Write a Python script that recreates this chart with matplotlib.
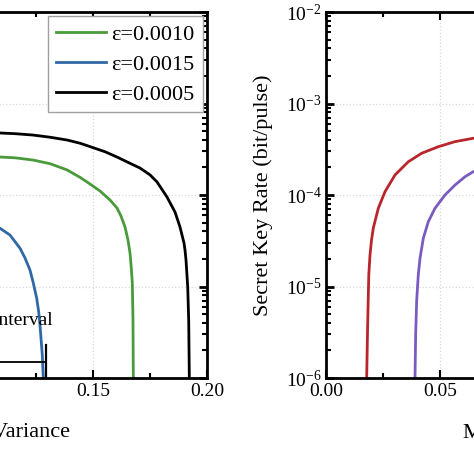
import matplotlib
matplotlib.use("Agg")
import matplotlib.pyplot as plt
from matplotlib.ticker import LogLocator, MultipleLocator, FormatStrFormatter, NullFormatter

plt.rcParams['font.family'] = ['Liberation Serif', 'DejaVu Serif']
plt.rcParams['mathtext.fontset'] = 'stix'

# ---- left panel data (key rate vs variance) ----
black_x = [0.100, 0.10921, 0.11579, 0.12368, 0.13114, 0.13860, 0.14430, 0.14868, 0.15527,
           0.16053, 0.16623, 0.17061, 0.17500, 0.17807, 0.18246, 0.18596, 0.18816, 0.18904,
           0.18991, 0.19035, 0.19079, 0.19154, 0.19197, 0.19224, 0.19224]
black_y = [4.9e-4, 4.76e-4, 4.68e-4, 4.52e-4, 4.28e-4, 3.99e-4, 3.68e-4, 3.38e-4, 2.97e-4,
           2.60e-4, 2.22e-4, 1.97e-4, 1.66e-4, 1.39e-4, 9.5e-5, 6.52e-5, 4.47e-5, 3.65e-5,
           2.99e-5, 2.51e-5, 1.95e-5, 9.9e-6, 4.3e-6, 1.03e-6, 3e-7]
green_x = [0.100, 0.10921, 0.11579, 0.12368, 0.13114, 0.13860, 0.14430, 0.14868, 0.15307,
           0.15746, 0.16053, 0.16228, 0.16404, 0.16535, 0.16623, 0.16680, 0.16724, 0.16754,
           0.16768, 0.16768]
green_y = [2.72e-4, 2.60e-4, 2.55e-4, 2.41e-4, 2.20e-4, 1.88e-4, 1.56e-4, 1.32e-4, 1.106e-4,
           8.82e-5, 7.21e-5, 5.89e-5, 4.47e-5, 3.22e-5, 2.32e-5, 1.59e-5, 1.09e-5, 4.3e-6,
           1.03e-6, 3e-7]
blue_x = [0.100, 0.10921, 0.11360, 0.11798, 0.12018, 0.12237, 0.12382, 0.12531, 0.12619,
          0.12675, 0.12776, 0.12820, 0.12820]
blue_y = [5.07e-5, 4.33e-5, 3.65e-5, 2.62e-5, 2.05e-5, 1.51e-5, 1.09e-5, 7.43e-6, 5.26e-6,
          3.79e-6, 1.78e-6, 1.0e-6, 3e-7]
labels_left = ['ε=0.0010', 'ε=0.0015', 'ε=0.0005']

# ---- right panel data ----
red_x = [0.01785, 0.01785, 0.01820, 0.01851, 0.01877, 0.01930, 0.01996, 0.02075, 0.02294,
         0.02588, 0.03026, 0.03610, 0.04197, 0.04925, 0.05658, 0.06461, 0.072]
red_y = [3e-7, 1.03e-6, 3.10e-6, 7.11e-6, 1.34e-5, 2.21e-5, 3.22e-5, 4.36e-5, 7.16e-5,
         1.087e-4, 1.655e-4, 2.31e-4, 2.86e-4, 3.37e-4, 3.83e-4, 4.17e-4, 4.35e-4]
purple_x = [0.03904, 0.03904, 0.03934, 0.03978, 0.04048, 0.04123, 0.04268, 0.04487, 0.04781,
            0.05219, 0.05658, 0.06097, 0.06461, 0.072]
purple_y = [3e-7, 1.03e-6, 3.10e-6, 7.11e-6, 1.34e-5, 2.03e-5, 3.37e-5, 5.11e-5, 7.16e-5,
            1.0e-4, 1.285e-4, 1.584e-4, 1.80e-4, 1.95e-4]

# interval annotation
interval_x = [0.05, 0.1294]
interval_y = 1.5e-6
interval_cap = 2.3e-6

W = 474
fig = plt.figure(figsize=(4.74, 4.74), dpi=100)
bot = 1 - 378 / W
top = 1 - 12 / W
axL = fig.add_axes([-249 / W, bot, 456 / W, top - bot])
axR = fig.add_axes([326 / W, bot, 456 / W, top - bot])

green = '#4a9a3c'
blue = '#2f68a6'
red = '#b8262b'
purple = '#7a5bbf'
lw = 2.0

axL.plot(green_x, green_y, color=green, lw=lw, label=labels_left[0])
axL.plot(blue_x, blue_y, color=blue, lw=lw, label=labels_left[1])
axL.plot(black_x, black_y, color='black', lw=lw, label=labels_left[2])

axL.plot(interval_x, [interval_y, interval_y], color='black', lw=1.3)
for xv in interval_x:
    axL.plot([xv, xv], [1e-6, interval_cap], color='black', lw=1.6)
axL.text(0.1325, 3.8e-6, 'Confidence Interval', ha='right', va='baseline', fontsize=14)

axR.plot(red_x, red_y, color=red, lw=lw)
axR.plot(purple_x, purple_y, color=purple, lw=lw)

for ax in (axL, axR):
    ax.set_yscale('log')
    ax.set_xlim(0, 0.2)
    ax.set_ylim(1e-6, 1e-2)
    ax.xaxis.set_major_locator(MultipleLocator(0.05))
    ax.xaxis.set_minor_locator(MultipleLocator(0.025))
    ax.xaxis.set_major_formatter(FormatStrFormatter('%.2f'))
    ax.yaxis.set_major_locator(LogLocator(base=10, numticks=10))
    ax.yaxis.set_minor_locator(LogLocator(base=10, subs=range(2, 10), numticks=20))
    ax.yaxis.set_minor_formatter(NullFormatter())
    ax.tick_params(which='both', direction='in', top=True, right=True, labelsize=14, width=1.5)
    ax.tick_params(which='major', length=6)
    ax.tick_params(which='minor', length=3.5)
    ax.tick_params(axis='y', which='major', width=2.0, pad=3)
    ax.grid(True, which='major', color='#d8d8d8', linestyle=':', linewidth=0.9)
    for s in ax.spines.values():
        s.set_linewidth(2.0)
    ax.set_ylabel('Secret Key Rate (bit/pulse)', fontsize=16, labelpad=9)

axL.set_xlabel('Excess Noise Variance', fontsize=16, ha='right', va='baseline')
axL.xaxis.set_label_coords(0.6996, -0.161)
axR.set_xlabel('Misalignment Error', fontsize=16, ha='left', va='baseline')
axR.xaxis.set_label_coords(0.3004, -0.164)

leg = axL.legend(loc='upper right', fontsize=16, handlelength=2.25, handletextpad=0.25,
                 labelspacing=0.42, borderpad=0.35, borderaxespad=0.2, fancybox=False,
                 framealpha=1)
leg.get_frame().set_edgecolor('#a0a0a0')
leg.get_frame().set_linewidth(1.0)

fig.savefig('out.png', dpi=100)
